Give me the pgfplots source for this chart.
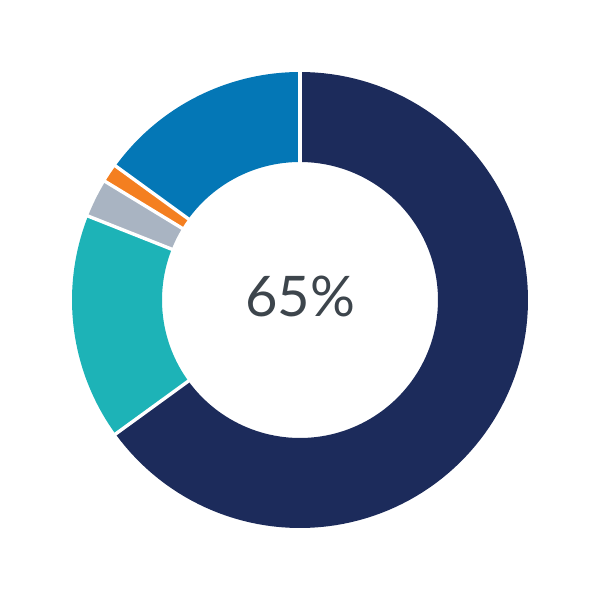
\documentclass[border=0pt]{standalone}
\usepackage{pgfplots}
\pgfplotsset{compat=1.18}
\usepackage{fontspec}
\setmainfont{Lato}
\definecolor{cnavy}{HTML}{1C2B5B}
\definecolor{cteal}{HTML}{1DB3B7}
\definecolor{cgray}{HTML}{A9B4C2}
\definecolor{corange}{HTML}{F47F20}
\definecolor{cblue}{HTML}{0477B6}
\definecolor{ctext}{HTML}{3D454C}
\begin{document}
\begin{tikzpicture}
\begin{axis}[
  scale only axis, width=300pt, height=300pt,
  xmin=-300, xmax=300, ymin=-300, ymax=300,
  hide axis, clip=false,
]
\addplot[draw=none, forget plot] coordinates {(-300,-300) (300,300)};
% slices: cumulative percentages 0, 65, 81, 83.7, 85, 100 (line caps butt)
\addplot[cnavy,   line width=45pt, domain=0:65,     samples=120, line cap=butt] ({183*sin(3.6*x)}, {183*cos(3.6*x)});
\addplot[cteal,   line width=45pt, domain=65:81,    samples=40,  line cap=butt] ({183*sin(3.6*x)}, {183*cos(3.6*x)});
\addplot[cgray,   line width=45pt, domain=81:83.7,  samples=10,  line cap=butt] ({183*sin(3.6*x)}, {183*cos(3.6*x)});
\addplot[corange, line width=45pt, domain=83.7:85,  samples=10,  line cap=butt] ({183*sin(3.6*x)}, {183*cos(3.6*x)});
\addplot[cblue,   line width=45pt, domain=85:100,   samples=40,  line cap=butt] ({183*sin(3.6*x)}, {183*cos(3.6*x)});
% white separators
\addplot[white, line width=1.7pt, domain=130:235, samples=2] ({x*sin(3.6*0)},    {x*cos(3.6*0)});
\addplot[white, line width=1.7pt, domain=130:235, samples=2] ({x*sin(3.6*65)},   {x*cos(3.6*65)});
\addplot[white, line width=1.7pt, domain=130:235, samples=2] ({x*sin(3.6*81)},   {x*cos(3.6*81)});
\addplot[white, line width=1.7pt, domain=130:235, samples=2] ({x*sin(3.6*83.7)}, {x*cos(3.6*83.7)});
\addplot[white, line width=1.7pt, domain=130:235, samples=2] ({x*sin(3.6*85)},   {x*cos(3.6*85)});
\node[anchor=base, font=\fontsize{28}{30}\selectfont, text=ctext, inner sep=0pt] at (axis cs:0,-17) {65\%};
\end{axis}
\end{tikzpicture}
\end{document}
